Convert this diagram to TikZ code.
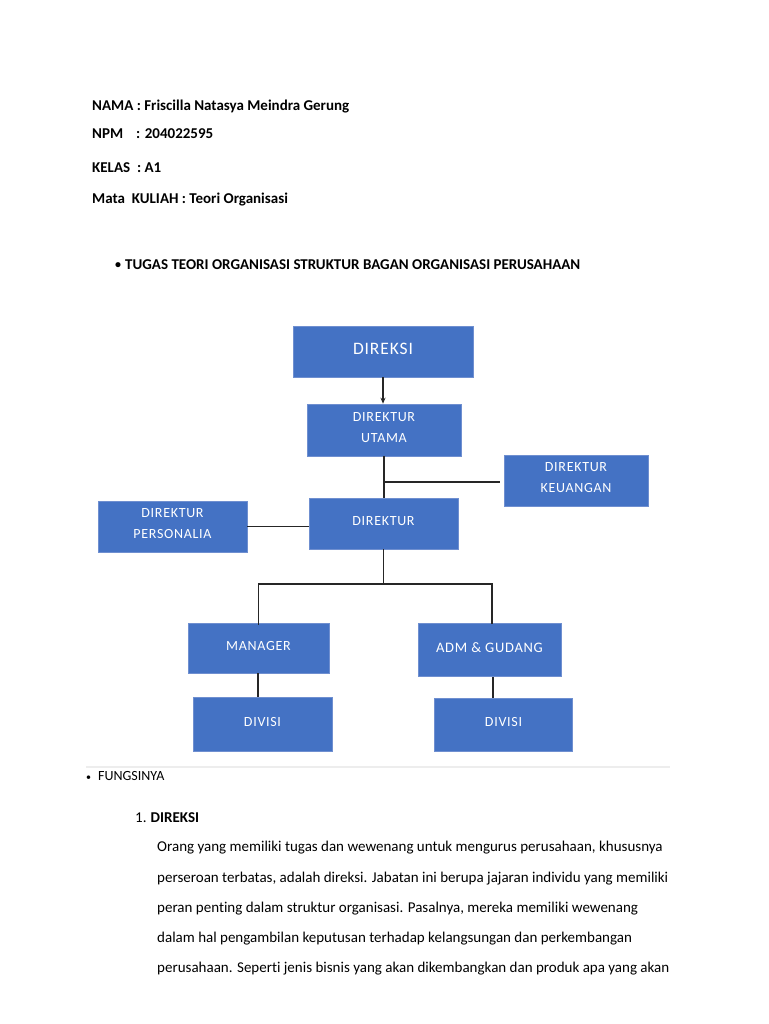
\documentclass[tikz,border=0pt]{standalone}
\usepackage{fontspec}
\setmainfont{Carlito}[Ligatures=NoCommon]
\newfontfamily\boxfont[LetterSpace=5]{Carlito}
\usetikzlibrary{arrows.meta}
\definecolor{boxblue}{HTML}{4472C4}
\definecolor{boxedge}{HTML}{6F8FD0}
\begin{document}
\begin{tikzpicture}[x=1pt,y=-1pt,
  txt/.style={anchor=base west,inner sep=0pt,font=\fontsize{15}{18}\selectfont},
  bx/.style={rectangle,fill=boxblue,draw=boxedge,line width=0.6pt,text=white,
    font=\boxfont\fontsize{14}{21}\selectfont,align=center,inner sep=0pt,text depth=5pt},
  conn/.style={draw=black!85,line width=1.4pt}]
\useasboundingbox (0,0) rectangle (768,1024);
\fill[white] (0,0) rectangle (768,1024);

\node[txt] (nama) at (92,111) {\textbf{NAMA : Friscilla Natasya Meindra Gerung}};
\node[txt] (npm) at (92,139) {\textbf{NPM}};
\node[txt] (npmv) at (136,139) {\textbf{: 204022595}};
\node[txt] (kelas) at (92,173) {\textbf{KELAS\ \ : A1}};
\node[txt] (mk) at (92,204) {\textbf{Mata\ \ KULIAH : Teori Organisasi}};
\node[anchor=base west,inner sep=0pt,font=\fontsize{12}{14}\selectfont] (bul) at (115,268) {\textbf{\textbullet}};
\node[txt] (tugas) at (125,269) {\textbf{TUGAS TEORI ORGANISASI STRUKTUR BAGAN ORGANISASI PERUSAHAAN}};

\node[bx,minimum width=180,minimum height=51,font=\boxfont\fontsize{17.5}{20}\selectfont] (direksi) at (383,351.5) {DIREKSI};
\node[bx,minimum width=154,minimum height=52] (utama) at (384,430) {DIREKTUR\\UTAMA};
\node[bx,minimum width=144,minimum height=51] (keu) at (576,480.5) {DIREKTUR\\KEUANGAN};
\node[bx,minimum width=149,minimum height=51] (pers) at (172.5,526.5) {DIREKTUR\\PERSONALIA};
\node[bx,minimum width=149,minimum height=51] (dir) at (383.5,523.5) {DIREKTUR};
\node[bx,minimum width=141,minimum height=50] (man) at (258.5,648) {MANAGER};
\node[bx,minimum width=143,minimum height=53,font=\boxfont\fontsize{14.5}{17}\selectfont] (adm) at (489.5,650) {ADM \& GUDANG};
\node[bx,minimum width=139,minimum height=54] (divl) at (262.5,724) {DIVISI};
\node[bx,minimum width=138,minimum height=53] (divr) at (503.5,724.5) {DIVISI};

\coordinate (j1) at (383.5,482);
\coordinate (kend) at (500,482);
\coordinate (bus) at (383.5,584);

\draw[conn,-{Stealth[length=6pt,width=5pt]}] (direksi.south) -- (direksi.south |- utama.north);
\draw[conn] (utama.south) -- (utama.south |- dir.north);
\draw[conn] (j1) -- (kend);
\draw[conn] (pers.east) -- (pers.east -| dir.west);
\draw[conn] (dir.south) -- (bus);
\draw[conn] ([yshift=-2pt]man.north) |- (bus) -| ([xshift=2.5pt,yshift=-1pt]adm.north);
\draw[conn] ([xshift=-0.5pt]man.south) -- ([xshift=-0.5pt]man.south |- divl.north);
\draw[conn] ([xshift=3.5pt]adm.south) -- ([xshift=3.5pt]adm.south |- divr.north);

\coordinate (sepl) at (86,767);
\coordinate (sepr) at (670,767);
\draw[black!7,line width=2pt] (sepl) -- (sepr);

\node[anchor=base west,inner sep=0pt,font=\fontsize{10}{12}\selectfont] (fbul) at (86,780) {\textbullet};
\node[anchor=base west,inner sep=0pt,font=\fontsize{14}{16}\selectfont] (fung) at (98,780) {FUNGSINYA};
\node[txt] (num) at (135,822) {1.};
\node[txt] (numt) at (150.5,822) {\textbf{DIREKSI}};
\node[txt] (p1) at (157,851) {Orang yang memiliki tugas dan wewenang untuk mengurus perusahaan, khususnya};
\node[txt] (p2) at (157,882) {perseroan terbatas, adalah direksi. Jabatan ini berupa jajaran individu yang memiliki};
\node[txt] (p3) at (157,912) {peran penting dalam struktur organisasi. Pasalnya, mereka memiliki wewenang};
\node[txt] (p4) at (157,942) {dalam hal pengambilan keputusan terhadap kelangsungan dan perkembangan};
\node[txt] (p5) at (157,972) {perusahaan. Seperti jenis bisnis yang akan dikembangkan dan produk apa yang akan};
\end{tikzpicture}
\end{document}
